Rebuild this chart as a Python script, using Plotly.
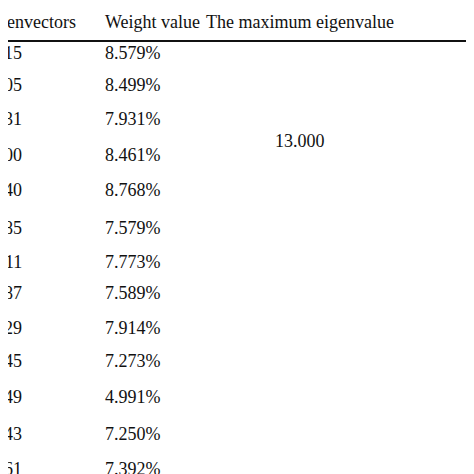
import plotly.graph_objects as go

# table content
headers = ["Eigenvectors", "Weight value", "The maximum eigenvalue"]
eigvec_tail = ["15", "05", "31", "00", "40", "85", "11", "87", "29", "45", "49", "43", "61"]
weights = ["8.579%", "8.499%", "7.931%", "8.461%", "8.768%", "7.579%", "7.773%",
           "7.589%", "7.914%", "7.273%", "4.991%", "7.250%", "7.392%"]
max_eig = "13.000"

# row centres, in pixels from the top (rows are not evenly spaced)
row_y = [45, 77, 111, 147, 182, 220, 254, 285, 320, 353, 389, 426, 461]

font = dict(family="Liberation Serif", size=18, color="#111")
fig = go.Figure()

for y, tail, w in zip(row_y, eigvec_tail, weights):
    fig.add_annotation(x=16, y=y, text=tail, xanchor="right", showarrow=False, font=font)
    fig.add_annotation(x=95, y=y, text=w, xanchor="left", showarrow=False, font=font)
fig.add_annotation(x=292, y=133, text=max_eig, xanchor="center", showarrow=False, font=font)

# header
fig.add_annotation(x=70, y=14, text=headers[0], xanchor="right", showarrow=False, font=font)
fig.add_annotation(x=95, y=14, text=headers[1], xanchor="left", showarrow=False, font=font)
fig.add_annotation(x=292, y=14, text=headers[2], xanchor="center", showarrow=False, font=font)
fig.add_shape(type="line", x0=-5, x1=480, y0=33, y1=33, line=dict(color="#111", width=2))

fig.update_xaxes(range=[0, 474], visible=False, fixedrange=True)
fig.update_yaxes(range=[474, 0], visible=False, fixedrange=True)
fig.update_layout(width=474, height=474, margin=dict(l=0, r=0, t=0, b=0),
                  plot_bgcolor="white", paper_bgcolor="white", showlegend=False)
fig.write_html("out.html")
